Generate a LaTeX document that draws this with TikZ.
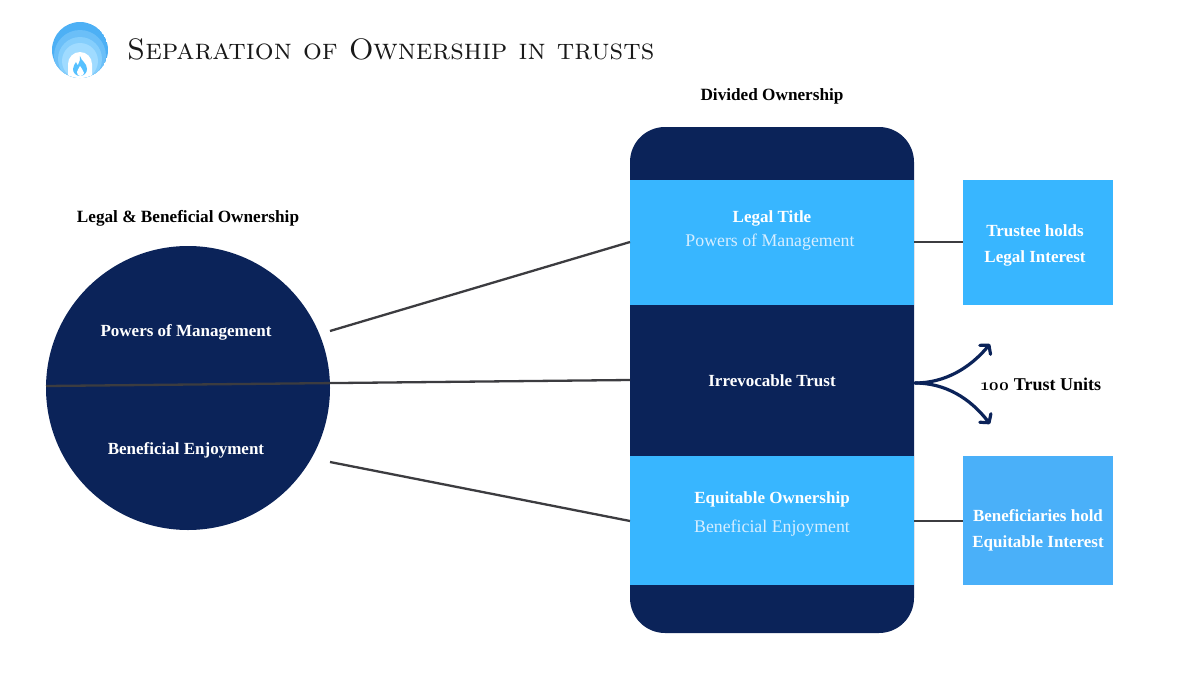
\documentclass[tikz,border=0pt]{standalone}
\usepackage{fontspec}
\setmainfont{Liberation Serif}
\newfontfamily\titlefont{Latin Modern Roman Caps}
\newfontfamily\unitsfont[Numbers=OldStyle]{Latin Modern Roman}
\usetikzlibrary{arrows.meta}
\definecolor{navy}{HTML}{0B2359}
\definecolor{sky}{HTML}{38B6FF}
\definecolor{skyb}{HTML}{4AB0F9}
\definecolor{linegray}{HTML}{3C3C40}
\definecolor{palew}{HTML}{D6EEFF}
\definecolor{ringa}{HTML}{4DB0F5}
\definecolor{ringb}{HTML}{6BBFF8}
\definecolor{ringc}{HTML}{85CEFC}
\definecolor{ringd}{HTML}{A0DBFF}
\tikzset{
  px/.style={x=1pt,y=-1pt},
  head/.style={font=\fontsize{17.2}{20}\selectfont\bfseries,text=black,inner sep=0pt},
  wlabel/.style={font=\fontsize{17}{19}\selectfont\bfseries,text=white,inner sep=0pt,align=center},
  plabel/.style={font=\fontsize{17.8}{20}\selectfont,text=palew,inner sep=0pt},
  boxlabel/.style={font=\fontsize{17}{26}\selectfont\bfseries,text=white,inner sep=0pt,align=center},
  link/.style={draw=linegray,line width=2.3pt},
  branch/.style={draw=navy,line width=3.2pt,line cap=round,-{Straight Barb[length=6pt,width=14pt,line width=3.2pt,round]}}
}
\begin{document}
\begin{tikzpicture}[px]
\useasboundingbox (0,0) rectangle (1200,675);
\fill[white] (0,0) rectangle (1200,675);
% logo
\begin{scope}
\clip (80,50) circle (28pt);
\fill[ringa] (80,50) circle (28pt);
\fill[ringb] (80,56) circle (26pt);
\fill[ringc] (80,59) circle (22pt);
\fill[ringd] (80,61) circle (18pt);
\fill[white] (68,80) -- (68,64) arc[start angle=180,end angle=0,radius=12pt] -- (92,80) -- cycle;
\fill[sky!85!white] (80,56) .. controls (81,61) and (87,63) .. (87,69) .. controls (87,73) and (84,76) .. (80,76) .. controls (76,76) and (73,73) .. (73,69) .. controls (73,66) and (75,64) .. (76,62) .. controls (77,64) and (77,65) .. (78,65) .. controls (80,62) and (80,59) .. (80,56) -- cycle;
\fill[white] (80,66) .. controls (81,69) and (84,70) .. (84,73) .. controls (84,75) and (82,76) .. (80,76) .. controls (78,76) and (77,74) .. (77,72) .. controls (77,70) and (79,69) .. (80,66) -- cycle;
\end{scope}
\node[anchor=west,inner sep=0pt,font=\titlefont\fontsize{29.6}{35}\selectfont,text=black!90] (title) at (127,49) {Separation of Ownership in trusts};
% headings
\node[head] (hdiv) at (772,96) {Divided Ownership};
\node[head] (hleg) at (188,218) {Legal \& Beneficial Ownership};
% circle
\node[circle,fill=navy,minimum size=284pt,inner sep=0pt] (whole) at (188,388) {};
\node[wlabel] (pm) at (186,332) {Powers of Management};
\node[wlabel] (be) at (186,450) {Beneficial Enjoyment};
% central column
\fill[navy,rounded corners=35pt] (630,127) rectangle (914,633);
\node[fill=sky,minimum width=284pt,minimum height=125pt,inner sep=0pt] (legal) at (772,242.5) {};
\node[fill=sky,minimum width=284pt,minimum height=129pt,inner sep=0pt] (equit) at (772,520.5) {};
\node[wlabel] (irrev) at (772,381) {Irrevocable Trust};
\node[wlabel] (ltitle) at (772,218) {Legal Title};
\node[plabel] (lpow) at (770,242) {Powers of Management};
\node[wlabel] (eown) at (772,499) {Equitable Ownership};
\node[plabel] (eben) at (772,528) {Beneficial Enjoyment};
% side boxes
\node[fill=sky,minimum width=150pt,minimum height=125pt,inner sep=0pt] (trustee) at (1038,242.5) {};
\node[fill=skyb,minimum width=150pt,minimum height=129pt,inner sep=0pt] (benef) at (1038,520.5) {};
\node[boxlabel] (ttext) at (1035,245) {Trustee holds\\Legal Interest};
\node[boxlabel] (btext) at (1038,530) {Beneficiaries hold\\Equitable Interest};
\node[inner sep=0pt,font=\bfseries\fontsize{18}{21}\selectfont,text=black] (units) at (1041,384) {{\unitsfont\bfseries\fontsize{17}{21}\selectfont\addfontfeature{LetterSpace=-4}100} Trust Units};
% free ends
\coordinate (a1) at (330,331);
\coordinate (a2) at (46,386);
\coordinate (a3) at (330,462);
\coordinate (b1) at (630,242);
\coordinate (b2) at (630,380);
\coordinate (b3) at (630,521);
\coordinate (t1) at (990,344);
\coordinate (t2) at (990,424);
\coordinate (o) at (915,383);
\coordinate (l1) at (914,242);
\coordinate (l2) at (963,242);
\coordinate (e1) at (914,521);
\coordinate (e2) at (963,521);
\draw[link] (a1) -- (b1);
\draw[link] (a2) -- (b2);
\draw[link] (a3) -- (b3);
\draw[link] (l1) -- (l2);
\draw[link] (e1) -- (e2);
\draw[branch] (o) .. controls (945,383) and (970,368) .. (t1);
\draw[branch] (o) .. controls (945,383) and (970,398) .. (t2);
\end{tikzpicture}
\end{document}
